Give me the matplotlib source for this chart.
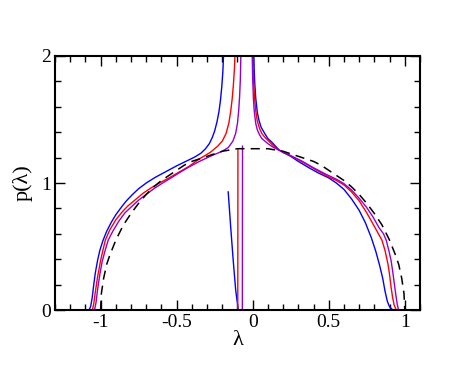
import numpy as np
import matplotlib
matplotlib.use("Agg")
import matplotlib.pyplot as plt
from matplotlib.ticker import MultipleLocator

# === Data ===
# semicircle reference (dashed)
semi_x = [-1.0, -0.995, -0.98, -0.96, -0.94, -0.9, -0.85, -0.8, -0.75, -0.7, -0.65, -0.6, -0.55,
          -0.5, -0.45, -0.4, -0.35, -0.3, -0.25, -0.2, -0.15, -0.1, -0.05, 0.0,
          0.05, 0.1, 0.15, 0.2, 0.25, 0.3, 0.35, 0.4, 0.45, 0.5, 0.55, 0.6, 0.65,
          0.7, 0.75, 0.8, 0.85, 0.9, 0.94, 0.96, 0.98, 0.995, 1.0]
semi_y = [0.0, 0.13, 0.25, 0.36, 0.43, 0.55, 0.67, 0.76, 0.84, 0.91, 0.97, 1.02, 1.06,
          1.10, 1.14, 1.17, 1.19, 1.21, 1.23, 1.25, 1.26, 1.27, 1.27, 1.27,
          1.27, 1.27, 1.26, 1.25, 1.23, 1.21, 1.19, 1.17, 1.14, 1.10, 1.06, 1.02, 0.97,
          0.91, 0.84, 0.76, 0.67, 0.55, 0.43, 0.36, 0.25, 0.13, 0.0]

# blue
blue_left_x = [-1.076, -1.065, -1.055, -1.045, -1.035, -1.02, -1.005, -0.985, -0.96, -0.93, -0.9,
               -0.86, -0.83, -0.79, -0.75, -0.70, -0.64, -0.57, -0.5, -0.44, -0.38, -0.34, -0.31,
               -0.285, -0.265, -0.25, -0.235, -0.222, -0.212, -0.203, -0.196, -0.19]
blue_left_y = [0.0, 0.03, 0.10, 0.20, 0.29, 0.39, 0.47, 0.545, 0.62, 0.69, 0.75,
               0.815, 0.86, 0.91, 0.955, 1.0, 1.045, 1.09, 1.135, 1.17, 1.205, 1.235, 1.27,
               1.31, 1.36, 1.41, 1.48, 1.56, 1.65, 1.76, 1.88, 2.05]
blue_mid_x = [-0.161, -0.145, -0.128, -0.112, -0.095]
blue_mid_y = [0.93, 0.66, 0.39, 0.16, 0.0]
blue_right_x = [0.006, 0.01, 0.014, 0.02, 0.03, 0.04, 0.055, 0.079, 0.1, 0.127, 0.15, 0.17, 0.2,
                0.25, 0.3, 0.37, 0.43, 0.5, 0.55, 0.6, 0.65, 0.7, 0.74, 0.78, 0.81, 0.835,
                0.855, 0.87, 0.885, 0.9, 0.922]
blue_right_y = [2.05, 1.89, 1.78, 1.67, 1.56, 1.50, 1.44, 1.39, 1.35, 1.32, 1.29, 1.265, 1.24,
                1.21, 1.17, 1.12, 1.08, 1.04, 1.0, 0.95, 0.875, 0.785, 0.69, 0.57, 0.46, 0.35,
                0.25, 0.15, 0.07, 0.025, 0.0]

# red
red_left_x = [-1.054, -1.045, -1.035, -1.02, -1.0, -0.985, -0.969, -0.94, -0.9, -0.86, -0.82,
              -0.77, -0.72, -0.67, -0.614, -0.55, -0.5, -0.42, -0.35, -0.28, -0.23, -0.2,
              -0.175, -0.157, -0.145, -0.135, -0.127, -0.12, -0.115]
red_left_y = [0.0, 0.05, 0.14, 0.26, 0.39, 0.47, 0.55, 0.63, 0.71, 0.77, 0.82,
              0.87, 0.92, 0.96, 1.0, 1.04, 1.075, 1.13, 1.19, 1.24, 1.29, 1.33,
              1.39, 1.47, 1.56, 1.66, 1.77, 1.90, 2.05]
red_mid_x = [-0.098, -0.097]
red_mid_y = [0.0, 1.26]
red_right_x = [0.0006, 0.003, 0.007, 0.012, 0.02, 0.03, 0.045, 0.06, 0.08, 0.105, 0.13, 0.17,
               0.25, 0.32, 0.4, 0.48, 0.55, 0.6, 0.65, 0.7, 0.75, 0.79, 0.82, 0.85, 0.87,
               0.89, 0.90, 0.91, 0.92, 0.93, 0.944]
red_right_y = [2.05, 1.92, 1.78, 1.67, 1.57, 1.49, 1.43, 1.39, 1.36, 1.33, 1.30, 1.26,
               1.215, 1.17, 1.115, 1.06, 1.02, 0.985, 0.93, 0.86, 0.765, 0.68, 0.615, 0.55, 0.47,
               0.36, 0.28, 0.18, 0.10, 0.04, 0.0]

# violet
vio_left_x = [-1.04, -1.03, -1.02, -1.005, -0.99, -0.97, -0.95, -0.92, -0.88, -0.84, -0.80,
              -0.75, -0.7, -0.65, -0.592, -0.53, -0.47, -0.42, -0.35, -0.27, -0.2, -0.16,
              -0.13, -0.112, -0.1, -0.092, -0.086, -0.081, -0.077]
vio_left_y = [0.0, 0.06, 0.16, 0.28, 0.38, 0.47, 0.55, 0.62, 0.70, 0.765, 0.81,
              0.865, 0.91, 0.955, 1.0, 1.045, 1.09, 1.125, 1.17, 1.215, 1.25, 1.28,
              1.33, 1.39, 1.47, 1.57, 1.68, 1.82, 2.05]
vio_mid_x = [-0.068, -0.067]
vio_mid_y = [0.0, 1.29]
vio_right_x = [-0.004, 0.0, 0.005, 0.01, 0.02, 0.03, 0.045, 0.06, 0.08, 0.1, 0.13, 0.17,
               0.25, 0.32, 0.4, 0.48, 0.55, 0.6, 0.65, 0.7, 0.748, 0.79, 0.83, 0.86, 0.878,
               0.895, 0.91, 0.92, 0.93, 0.94, 0.95, 0.959]
vio_right_y = [2.05, 1.82, 1.66, 1.57, 1.47, 1.42, 1.38, 1.35, 1.33, 1.31, 1.285, 1.26,
               1.215, 1.175, 1.12, 1.07, 1.03, 0.995, 0.945, 0.88, 0.81, 0.735, 0.65, 0.60, 0.55,
               0.47, 0.39, 0.31, 0.22, 0.13, 0.05, 0.0]

# === Figure ===
plt.rcParams["font.family"] = ["Liberation Serif", "DejaVu Serif"]

fig = plt.figure(figsize=(4.74, 3.66), dpi=100)
ax = fig.add_axes([0.116, 0.153, 0.77, 0.694])

lw = 1.0
series = [
    ("#0000ff", [(blue_left_x, blue_left_y), (blue_mid_x, blue_mid_y), (blue_right_x, blue_right_y)]),
    ("#ff0000", [(red_left_x, red_left_y), (red_mid_x, red_mid_y), (red_right_x, red_right_y)]),
    ("#9400d3", [(vio_left_x, vio_left_y), (vio_mid_x, vio_mid_y), (vio_right_x, vio_right_y)]),
]
for color, parts in series:
    for xs, ys in parts:
        ax.plot(xs, ys, color=color, lw=lw)

ax.plot(semi_x, semi_y, color="black", lw=1.1, dashes=(6, 4))

# === Axes styling ===
ax.set_xlim(-1.3, 1.1)
ax.set_ylim(0, 2)
ax.xaxis.set_major_locator(MultipleLocator(0.5))
ax.xaxis.set_minor_locator(MultipleLocator(0.1))
ax.yaxis.set_major_locator(MultipleLocator(1))
ax.yaxis.set_minor_locator(MultipleLocator(0.2))
ax.set_xticks([-1, -0.5, 0, 0.5, 1])
ax.set_xticklabels(["-1", "-0.5", "0", "0.5", "1"])
ax.set_yticks([0, 1, 2])
ax.set_yticklabels(["0", "1", "2"])

ax.tick_params(which="both", direction="in", top=True, right=True, width=1.0, labelsize=14)
ax.tick_params(which="major", length=7.5, pad=3)
ax.tick_params(which="minor", length=4)
for s in ax.spines.values():
    s.set_linewidth(1.5)

ax.set_xlabel("λ", fontsize=16, labelpad=0)
ax.set_ylabel("p(λ)", fontsize=16, labelpad=6)

fig.savefig("out.png", dpi=100)
